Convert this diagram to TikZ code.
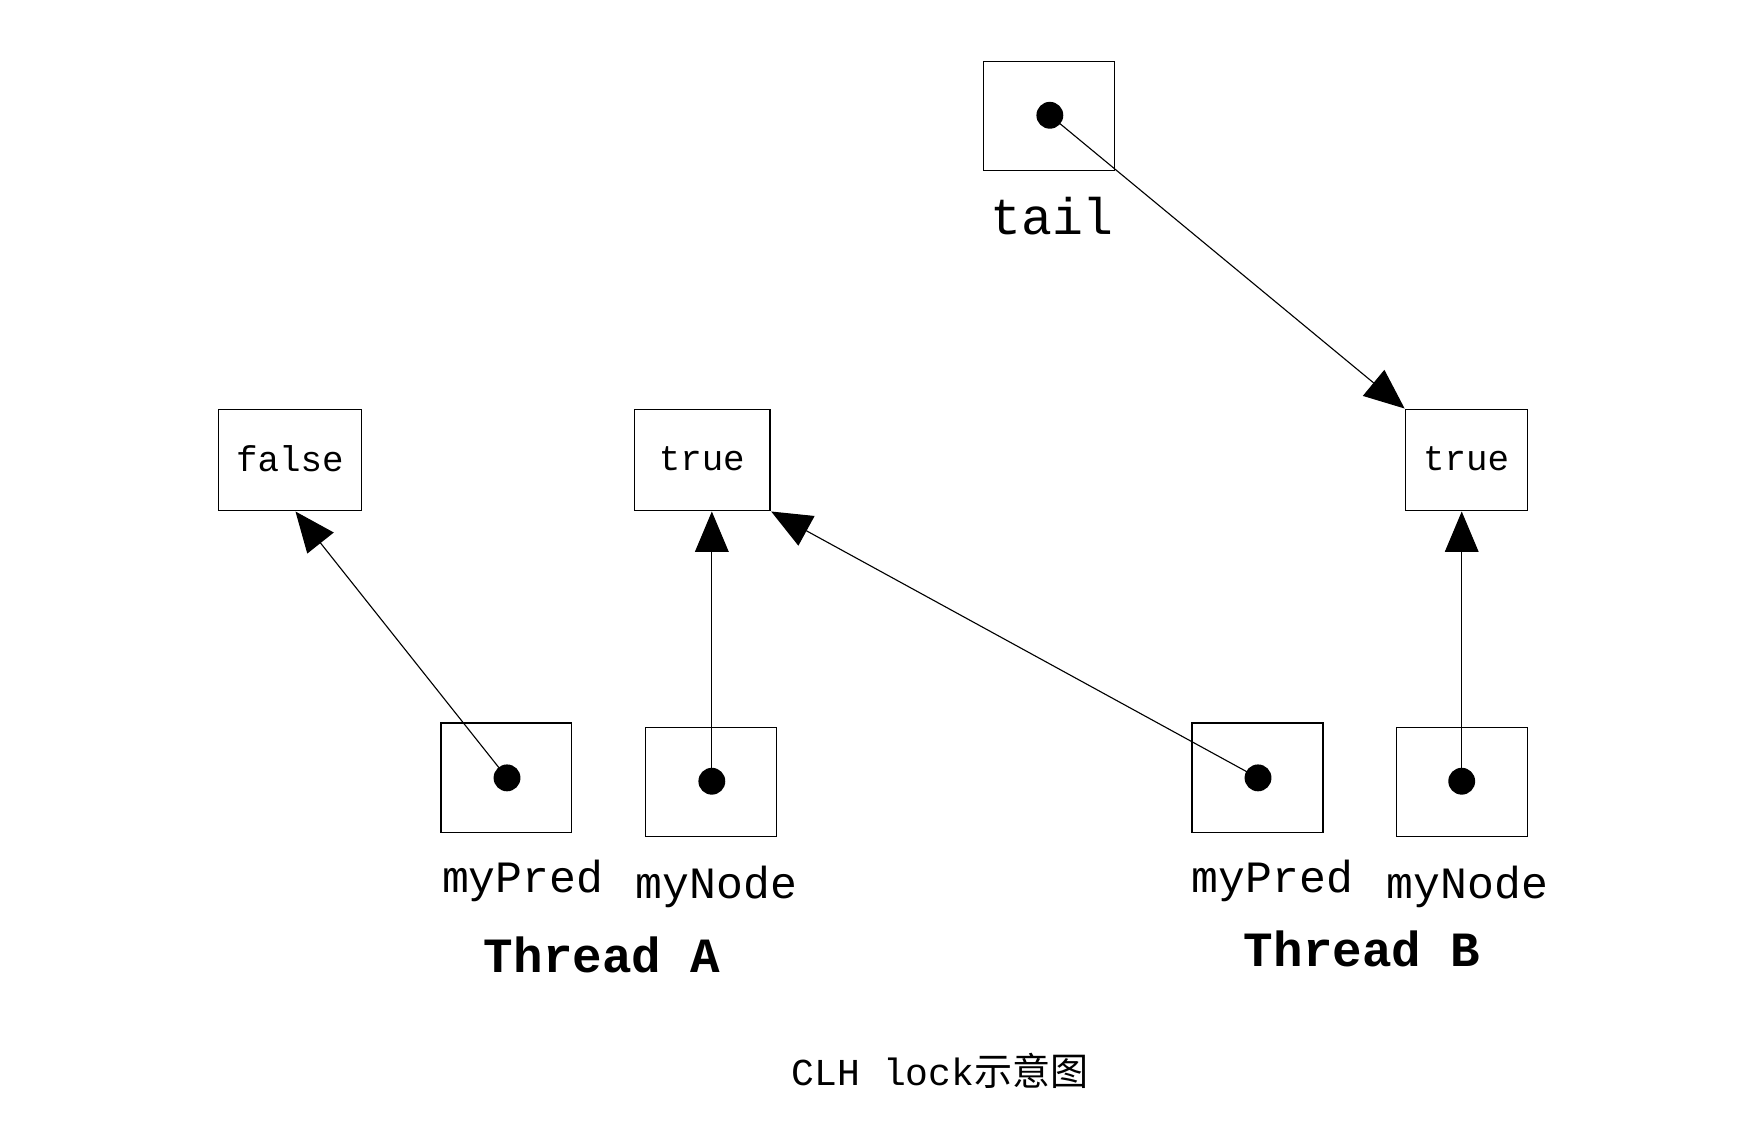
\documentclass[tikz,border=0pt]{standalone}
\usepackage{fontspec}
\setmainfont{Liberation Mono}
\newfontfamily\cjk{Noto Sans CJK SC}
\usetikzlibrary{arrows.meta}
\begin{document}
\begin{tikzpicture}[x=1pt,y=-1pt,
  box/.style={draw,line width=1pt},
  dot/.style={circle,fill=black,inner sep=0pt,minimum size=24pt},
  arr/.style={line width=1pt,-{Triangle[length=36pt,width=30pt]}},
  lbl/.style={inner sep=0pt,font=\fontsize{40}{40}\selectfont},
  thr/.style={inner sep=0pt,font=\fontsize{44}{44}\selectfont\bfseries},
  val/.style={inner sep=0pt,font=\fontsize{32}{32}\selectfont}]
\useasboundingbox (0,0) rectangle (1560,1011);
\draw[box] (879,55) rectangle (996,152);
\node[dot] (dt) at (938,103) {};
\node[lbl,font=\fontsize{46}{46}\selectfont] at (940,193) {tail};
\draw[box] (195,366) rectangle (323,456);
\node[val] at (259,410) {false};
\draw[box] (567,366) rectangle (688,456);
\node[val] at (627,410) {true};
\draw[box] (1256,366) rectangle (1365,456);
\node[val] at (1310,410) {true};
\coordinate (f) at (264,457);
\coordinate (t1b) at (636,457);
\coordinate (t1c) at (689,457);
\coordinate (t2a) at (1255,365);
\coordinate (t2b) at (1306,457);
\draw[box] (394,646) rectangle (511,744); \node[dot] (ap) at (453,695) {};
\draw[box] (577,650) rectangle (694,747); \node[dot] (an) at (636,698) {};
\draw[box] (1065,646) rectangle (1182,744); \node[dot] (bp) at (1124,695) {};
\draw[box] (1248,650) rectangle (1365,747); \node[dot] (bn) at (1306,698) {};
\node[lbl] at (467,787) {myPred};
\node[lbl] at (640,792) {myNode};
\node[thr] at (538,853) {Thread A};
\node[lbl] at (1137,787) {myPred};
\node[lbl] at (1311,792) {myNode};
\node[thr] at (1217,848) {Thread B};
\node[inner sep=0pt,font=\fontsize{34}{34}\selectfont] at (840,957) {CLH lock{\cjk 示意图}};
\draw[arr] (dt.center) -- (t2a);
\draw[arr] (ap.center) -- (f);
\draw[arr] (an.center) -- (t1b);
\draw[arr] (bp.center) -- (t1c);
\draw[arr] (bn.center) -- (t2b);
\end{tikzpicture}
\end{document}
